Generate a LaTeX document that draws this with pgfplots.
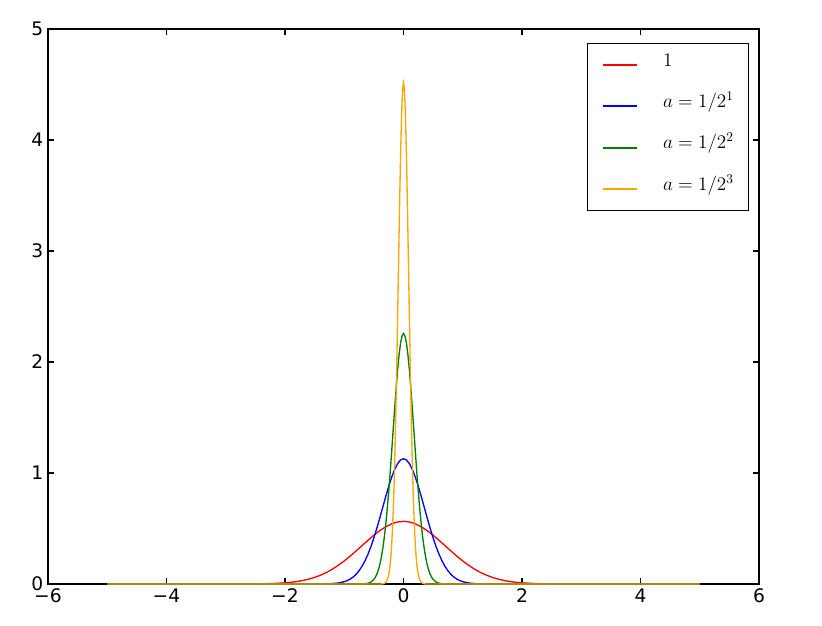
\documentclass[border=0pt]{standalone}
\usepackage{fontspec}
\setmainfont{DejaVu Sans}
\usepackage{pgfplots}
\pgfplotsset{compat=1.18}
\definecolor{mplred}{RGB}{255,0,0}
\definecolor{mplblue}{RGB}{0,0,255}
\definecolor{mplgreen}{RGB}{0,128,0}
\definecolor{mplorange}{RGB}{255,165,0}
\begin{document}
\begin{tikzpicture}
\begin{axis}[
  scale only axis,
  width=533.25pt, height=416.25pt,
  xmin=-6, xmax=6, ymin=0, ymax=5,
  clip=false,
  axis line style={line width=1pt, black},
  tick align=inside,
  xtick pos=both, ytick pos=both,
  xticklabel pos=lower, yticklabel pos=left,
  major tick length=4.3pt,
  tick style={line width=0.8pt, black},
  xtick={-6,-4,-2,0,2,4,6},
  xticklabels={−6,−4,−2,0,2,4,6},
  ytick={0,1,2,3,4,5},
  yticklabels={0,1,2,3,4,5},
  ticklabel style={font=\fontsize{14}{16}\selectfont},
  legend cell align=left,
  legend style={
    at={(1,1)}, anchor=north east, xshift=-7.5pt, yshift=-10.5pt,
    draw=black, line width=0.9pt, fill=white,
    font=\fontsize{14}{17}\selectfont,
    inner xsep=11pt, inner ysep=6pt,
    row sep=11pt, column sep=18.5pt,
    nodes={inner sep=0pt, text height=11pt, text depth=9pt},
  },
  legend image code/.code={\draw[#1, line width=1.4pt] (0pt,0pt) -- (25.5pt,0pt);},
]
\coordinate (ll) at (rel axis cs:0,0);
\coordinate (ur) at (rel axis cs:1,1);
\addplot[draw=mplred, line width=1pt] coordinates {
(-5,0) (-3.5,0) (-3.0,0.00007) (-2.8,0.0002) (-2.6,0.00065) (-2.4,0.0018) (-2.2,0.0045)
(-2.0,0.0103) (-1.9,0.0153) (-1.8,0.0221) (-1.7,0.0314) (-1.6,0.0436) (-1.5,0.0595)
(-1.4,0.0795) (-1.3,0.1041) (-1.2,0.1337) (-1.1,0.1682) (-1.0,0.2076) (-0.9,0.2510)
(-0.8,0.2975) (-0.7,0.3456) (-0.6,0.3936) (-0.5,0.4394) (-0.4,0.4808) (-0.3,0.5156)
(-0.2,0.5421) (-0.1,0.5586) (0,0.5642)
(0.1,0.5586) (0.2,0.5421) (0.3,0.5156) (0.4,0.4808) (0.5,0.4394) (0.6,0.3936)
(0.7,0.3456) (0.8,0.2975) (0.9,0.2510) (1.0,0.2076) (1.1,0.1682) (1.2,0.1337)
(1.3,0.1041) (1.4,0.0795) (1.5,0.0595) (1.6,0.0436) (1.7,0.0314) (1.8,0.0221)
(1.9,0.0153) (2.0,0.0103) (2.2,0.0045) (2.4,0.0018) (2.6,0.00065) (2.8,0.0002)
(3.0,0.00007) (3.5,0) (5,0)
};
\addlegendentry{$1$}
\addplot[draw=mplblue, line width=1pt] coordinates {
(-5,0) (-2,0) (-1.5,0.00014) (-1.4,0.0004) (-1.3,0.0013) (-1.2,0.0036) (-1.1,0.0090)
(-1.0,0.0206) (-0.95,0.0306) (-0.9,0.0442) (-0.85,0.0628) (-0.8,0.0872) (-0.75,0.1190)
(-0.7,0.1590) (-0.65,0.2082) (-0.6,0.2674) (-0.55,0.3364) (-0.5,0.4152) (-0.45,0.5020)
(-0.4,0.5950) (-0.35,0.6912) (-0.3,0.7872) (-0.25,0.8788) (-0.2,0.9616) (-0.15,1.0312)
(-0.1,1.0842) (-0.05,1.1172) (0,1.1284)
(0.05,1.1172) (0.1,1.0842) (0.15,1.0312) (0.2,0.9616) (0.25,0.8788) (0.3,0.7872)
(0.35,0.6912) (0.4,0.5950) (0.45,0.5020) (0.5,0.4152) (0.55,0.3364) (0.6,0.2674)
(0.65,0.2082) (0.7,0.1590) (0.75,0.1190) (0.8,0.0872) (0.85,0.0628) (0.9,0.0442)
(0.95,0.0306) (1.0,0.0206) (1.1,0.0090) (1.2,0.0036) (1.3,0.0013) (1.4,0.0004)
(1.5,0.00014) (2,0) (5,0)
};
\addlegendentry{$a=1/2^1$}
\addplot[draw=mplgreen, line width=1pt] coordinates {
(-5,0) (-1,0) (-0.75,0.0003) (-0.7,0.0008) (-0.65,0.0026) (-0.6,0.0072) (-0.55,0.0180)
(-0.5,0.0412) (-0.475,0.0612) (-0.45,0.0884) (-0.425,0.1256) (-0.4,0.1744) (-0.375,0.2380)
(-0.35,0.3180) (-0.325,0.4164) (-0.3,0.5348) (-0.275,0.6728) (-0.25,0.8304) (-0.225,1.0040)
(-0.2,1.1900) (-0.175,1.3824) (-0.15,1.5744) (-0.125,1.7576) (-0.1,1.9232) (-0.075,2.0624)
(-0.05,2.1684) (-0.025,2.2344) (0,2.2568)
(0.025,2.2344) (0.05,2.1684) (0.075,2.0624) (0.1,1.9232) (0.125,1.7576) (0.15,1.5744)
(0.175,1.3824) (0.2,1.1900) (0.225,1.0040) (0.25,0.8304) (0.275,0.6728) (0.3,0.5348)
(0.325,0.4164) (0.35,0.3180) (0.375,0.2380) (0.4,0.1744) (0.425,0.1256) (0.45,0.0884)
(0.475,0.0612) (0.5,0.0412) (0.55,0.0180) (0.6,0.0072) (0.65,0.0026) (0.7,0.0008)
(0.75,0.0003) (1,0) (5,0)
};
\addlegendentry{$a=1/2^2$}
\addplot[draw=mplorange, line width=1pt] coordinates {
(-5,0) (-0.5,0) (-0.375,0.0006) (-0.35,0.0016) (-0.325,0.0052) (-0.3,0.0144) (-0.275,0.0360)
(-0.25,0.0824) (-0.2375,0.1224) (-0.225,0.1768) (-0.2125,0.2512) (-0.2,0.3488) (-0.1875,0.4760)
(-0.175,0.6360) (-0.1625,0.8328) (-0.15,1.0696) (-0.1375,1.3456) (-0.125,1.6608) (-0.1125,2.0080)
(-0.1,2.3800) (-0.0875,2.7648) (-0.075,3.1488) (-0.0625,3.5152) (-0.05,3.8464) (-0.0375,4.1248)
(-0.025,4.3368) (-0.0125,4.4688) (0,4.5136)
(0.0125,4.4688) (0.025,4.3368) (0.0375,4.1248) (0.05,3.8464) (0.0625,3.5152) (0.075,3.1488)
(0.0875,2.7648) (0.1,2.3800) (0.1125,2.0080) (0.125,1.6608) (0.1375,1.3456) (0.15,1.0696)
(0.1625,0.8328) (0.175,0.6360) (0.1875,0.4760) (0.2,0.3488) (0.2125,0.2512) (0.225,0.1768)
(0.2375,0.1224) (0.25,0.0824) (0.275,0.0360) (0.3,0.0144) (0.325,0.0052) (0.35,0.0016)
(0.375,0.0006) (0.5,0) (5,0)
};
\addlegendentry{$a=1/2^3$}
\end{axis}
\pgfresetboundingbox
\useasboundingbox ([shift={(-36pt,-31.5pt)}]ll) rectangle ([shift={(47.25pt,21.75pt)}]ur);
\end{tikzpicture}
\end{document}
